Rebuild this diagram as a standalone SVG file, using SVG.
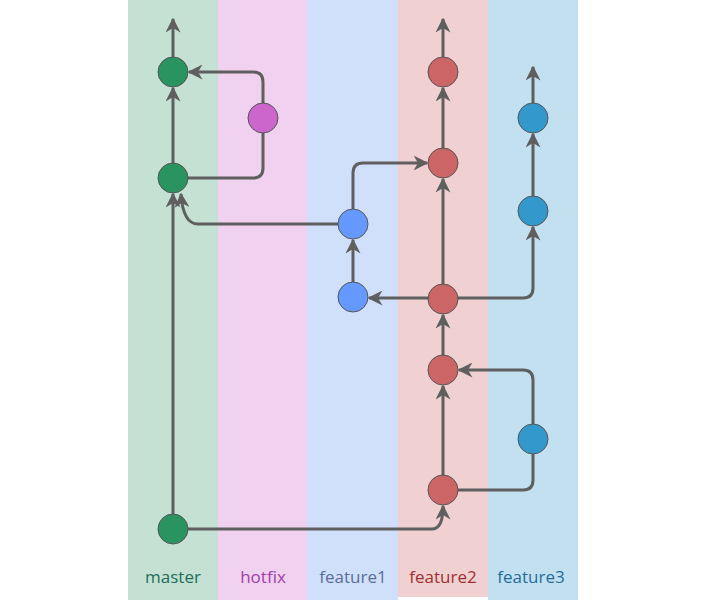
<svg xmlns="http://www.w3.org/2000/svg" width="720" height="600" viewBox="0 0 720 600">
<defs>
<marker id="a" viewBox="0 0 10 10" refX="9" refY="5" markerWidth="5" markerHeight="5" markerUnits="strokeWidth" orient="auto"><path d="M0,0 L10,5 L0,10 L3,5 Z" fill="#5f5f5f"/></marker>
</defs>
<style>
.e{fill:none;stroke:#5f5f5f;stroke-width:3;stroke-linejoin:round;marker-end:url(#a)}
.n{fill:none;stroke:#5f5f5f;stroke-width:3;stroke-linejoin:round}
circle{stroke:#555;stroke-width:1;}
.m{fill:#2a9460}.h{fill:#cc66cc}.f1{fill:#6699ff}.f2{fill:#cc6666}.f3{fill:#3399cc}
text{font-family:"Open Sans","Liberation Sans",sans-serif;font-size:17px;text-anchor:middle}
</style>
<rect width="720" height="600" fill="#fff"/>
<rect x="128" y="0" width="90" height="600" fill="#c4e1d3"/>
<rect x="218" y="0" width="89" height="600" fill="#f0d1ef"/>
<rect x="307" y="0" width="91" height="600" fill="#d0e0fa"/>
<rect x="398" y="0" width="90" height="597" fill="#f0d0d0"/>
<rect x="488" y="0" width="90" height="600" fill="#c2e0f0"/>
<g id="connectors">
<path class="e" d="M173,514 V194"/>
<path class="e" d="M173,163 V88"/>
<path class="e" d="M173,57 V19"/>
<path class="n" d="M188,178 H253 Q263,178 263,168 V133"/>
<path class="e" d="M263,103 V82 Q263,72 253,72 H189"/>
<path class="e" d="M338,224 H198 Q183,224 181,194"/>
<path class="e" d="M188,529 H432 Q443,529 443,506"/>
<path class="e" d="M443,475 V386"/>
<path class="e" d="M443,355 V315"/>
<path class="e" d="M443,284 V179"/>
<path class="e" d="M443,148 V88"/>
<path class="e" d="M443,57 V19"/>
<path class="n" d="M458,490 H523 Q533,490 533,480 V454"/>
<path class="e" d="M533,424 V380 Q533,370 523,370 H459"/>
<path class="e" d="M428,298 H369"/>
<path class="e" d="M458,298 H523 Q533,298 533,288 V227"/>
<path class="e" d="M533,196 V134"/>
<path class="e" d="M533,103 V67"/>
<path class="e" d="M353,282 V240"/>
<path class="e" d="M353,209 V173 Q353,163 363,163 H427"/>
</g>
<g id="master1"><circle class="m" cx="173" cy="72" r="15"/></g>
<g id="master2"><circle class="m" cx="173" cy="178" r="15"/></g>
<g id="master3"><circle class="m" cx="173" cy="529" r="15"/></g>
<g id="hotfix1"><circle class="h" cx="263" cy="118" r="15"/></g>
<g id="feature1a"><circle class="f1" cx="353" cy="224" r="15"/></g>
<g id="feature1b"><circle class="f1" cx="353" cy="297" r="15"/></g>
<g id="feature2a"><circle class="f2" cx="443" cy="72" r="15"/></g>
<g id="feature2b"><circle class="f2" cx="443" cy="163" r="15"/></g>
<g id="feature2c"><circle class="f2" cx="443" cy="299" r="15"/></g>
<g id="feature2d"><circle class="f2" cx="443" cy="370" r="15"/></g>
<g id="feature2e"><circle class="f2" cx="443" cy="490" r="15"/></g>
<g id="feature3a"><circle class="f3" cx="533" cy="118" r="15"/></g>
<g id="feature3b"><circle class="f3" cx="533" cy="211" r="15"/></g>
<g id="feature3c"><circle class="f3" cx="533" cy="439" r="15"/></g>
<g id="labels">
<text x="173" y="583" fill="#1f6e5a">master</text>
<text x="263" y="583" fill="#a040a8">hotfix</text>
<text x="353" y="583" fill="#5a6e9a">feature1</text>
<text x="443" y="583" fill="#a03030">feature2</text>
<text x="531" y="583" fill="#1f6e9a">feature3</text>
</g>
</svg>
